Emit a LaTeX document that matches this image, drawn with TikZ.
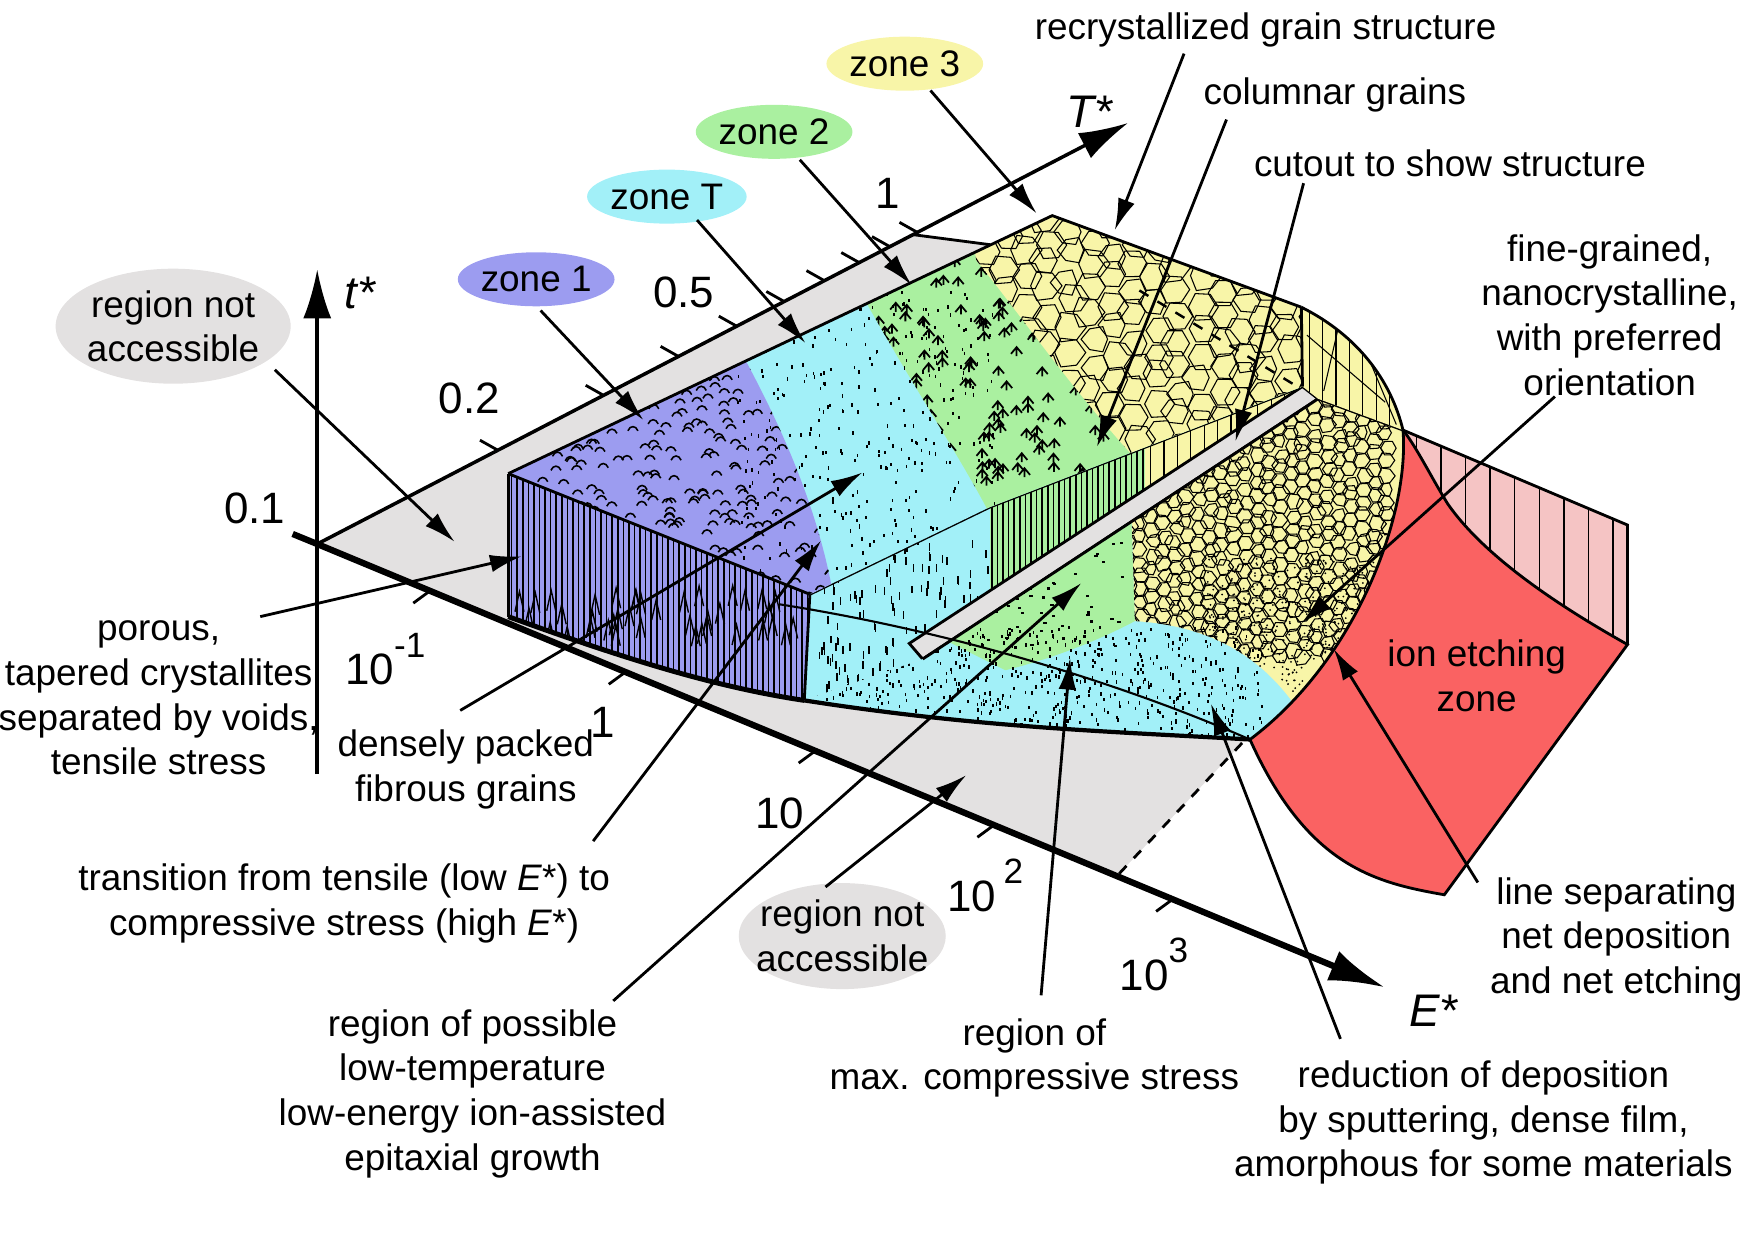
\documentclass[tikz,border=0pt]{standalone}
\usepackage{fontspec}
\setmainfont{Liberation Sans}
\usetikzlibrary{arrows.meta,shapes.geometric,calc}
\definecolor{zpurple}{HTML}{9C9CF0}
\definecolor{zcyan}{HTML}{A2F0F8}
\definecolor{zgreen}{HTML}{AAF0A0}
\definecolor{zyellow}{HTML}{F8F5A8}
\definecolor{zred}{HTML}{FA6262}
\definecolor{zpink}{HTML}{F5C4C4}
\definecolor{zgray}{HTML}{E3E1E1}
\tikzset{
 lbl/.style={align=center,font=\fontsize{10.5}{12.7}\selectfont,inner sep=0pt},
 arr/.style={-{Latex[length=9pt,width=5pt]},line width=0.8pt},
 zone/.style={ellipse,inner sep=0pt,minimum width=1.5cm,minimum height=0.54cm,font=\fontsize{10.5}{12.7}\selectfont},
 edge/.style={line width=0.8pt},
 tick/.style={line width=0.8pt},
 grain/.style={line width=0.3pt}
}
\newcommand{\hexnet}[6]{% x0 y0 cols rows r
 \foreach \i in {0,...,#3}{\foreach \j in {0,...,#4}{%
  \pgfmathsetmacro\cx{#1+1.5*#5*\i+(rnd-0.5)*#5*0.7}%
  \pgfmathsetmacro\cy{#2+1.732*#5*(\j+0.5*mod(\i,2))+(rnd-0.5)*#5*0.7}%
  \pgfmathsetmacro\rr{#5*(0.8+0.4*rnd)}%
  \draw[grain,#6] (\cx,\cy) +(0:\rr) -- +(60:#5) -- +(120:\rr) -- +(180:#5) -- +(240:\rr) -- +(300:#5) -- cycle;}}}
\begin{document}
\begin{tikzpicture}[x=0.01117cm,y=-0.01117cm]
\pgfmathsetseed{7}
\useasboundingbox (0,0) rectangle (1560.4,1120.9);
% key coordinates
\coordinate (O) at (284,487);
\coordinate (F1) at (455,424);
\coordinate (F2) at (455,552);
\coordinate (F3) at (720,627);
\coordinate (F4) at (725,532);
\coordinate (TC) at (942,193);
\coordinate (TR) at (1165,275);
\coordinate (W1) at (886,454);
\coordinate (S1) at (1166,346);
\coordinate (S2) at (1180,357);
\coordinate (S3) at (826,590);
\coordinate (S4) at (814,576);
\coordinate (D1) at (1256,385);
\coordinate (D2) at (1119,662);
% gray base plane
\fill[zgray] (O) -- (817,210) -- (886,219) -- (1000,290) -- (1114,663) -- (1002,782) -- cycle;
\draw[edge] (817,210) -- (886,219);
\draw[edge,dashed] (1002,782) -- (1114,663);
% red and pink
\fill[zpink] (D1) -- (1457,470) -- (1457,577) .. controls (1400,545) and (1330,500) .. (1296,451) .. controls (1280,425) and (1268,400) .. (D1);
\begin{scope}
\clip (D1) -- (1457,470) -- (1457,577) .. controls (1400,545) and (1330,500) .. (1296,451) .. controls (1280,425) and (1268,400) .. (D1);
\foreach \x in {1268,1290,...,1456} \draw[line width=0.4pt] (\x,380) -- (\x,600);
\end{scope}
\draw[edge] (D1) -- (1457,470) -- (1457,577);
\fill[zred] (D2) .. controls (1215,590) and (1262,460) .. (D1) .. controls (1268,400) and (1280,425) .. (1296,451) .. controls (1330,500) and (1400,545) .. (1457,577) -- (1293,801) .. controls (1230,790) and (1170,775) .. (D2);
\draw[edge] (D1) .. controls (1268,400) and (1280,425) .. (1296,451) .. controls (1330,500) and (1400,545) .. (1457,577) -- (1293,801) .. controls (1230,790) and (1170,775) .. (D2);
% front face (zone 1)
\fill[zpurple] (F1) -- (F2) .. controls (560,590) and (640,615) .. (F3) -- (F4) -- cycle;
\begin{scope}
\clip (F1) -- (F2) .. controls (560,590) and (640,615) .. (F3) -- (F4) -- cycle;
\foreach \x in {458,463,...,725} \draw[line width=0.45pt] (\x,400) -- (\x,650);
\foreach \i in {1,...,40}{\pgfmathsetmacro\px{460+250*rnd}\pgfmathsetmacro\py{540+40*rnd}
 \draw[line width=0.4pt] (\px,\py) -- ++(4,-18) -- ++(4,18);}
\end{scope}
\draw[edge] (F1) -- (F2);
\draw[line width=1.4pt] (F2) .. controls (560,590) and (640,615) .. (F3);
% side wall along T
\begin{scope}
\clip (F4) -- (W1) -- (S1) -- (S4) -- (S3) -- (F3) -- cycle;
\fill[zcyan] (700,300) rectangle (886,650);
\fill[zgreen] (886,300) rectangle (1025,650);
\fill[zyellow] (1025,300) rectangle (1200,650);
\foreach \x in {888,893,...,1025} \draw[line width=0.45pt] (\x,330) -- (\x,650);
\foreach \x in {1030,1042,...,1160} \draw[line width=0.35pt] (\x,330) -- (\x,650);
\foreach \i in {1,...,170}{\pgfmathsetmacro\px{728+158*rnd}\pgfmathsetmacro\py{470+160*rnd}
 \fill (\px,\py) rectangle ++(1.3,7);}
\end{scope}
\draw[edge] (F4) -- (W1) -- (S1);
\draw[edge] (F4) -- (F3);
% cutout strip
\fill[zgray] (S4) -- (S1) -- (S2) -- (S3) -- cycle;
\draw[edge] (S4) -- (S1) -- (S2) -- (S3) -- cycle;
% lower platform
\begin{scope}
\clip (F3) -- (S3) -- (S2) -- (D1) .. controls (1262,460) and (1215,590) .. (D2) .. controls (1000,655) and (880,652) .. (F3);
\fill[zcyan] (700,300) rectangle (1300,700);
\fill[zgreen] (850,575) -- (1012,440) -- (1016,556) .. controls (980,575) and (940,590) .. (900,600) -- cycle;
\fill[zyellow] (1012,430) -- (1300,300) -- (1300,700) -- (1165,640) .. controls (1130,585) and (1080,560) .. (1016,556) -- cycle;
\foreach \i in {1,...,650}{\pgfmathsetmacro\px{730+400*rnd}\pgfmathsetmacro\py{560+100*rnd}
 \fill (\px,\py) rectangle ++(1.5,3);}
\foreach \i in {1,...,60}{\pgfmathsetmacro\px{880+130*rnd}\pgfmathsetmacro\py{480+100*rnd}
 \fill (\px,\py) rectangle ++(3,2);}
\begin{scope}
\clip (1012,430) -- (1300,300) -- (1300,700) -- (1165,640) .. controls (1130,585) and (1080,560) .. (1016,556) -- cycle;
\hexnet{1010}{340}{22}{20}{7}{}
\foreach \i in {1,...,500}{\pgfmathsetmacro\px{1080+170*rnd}\pgfmathsetmacro\py{500+130*rnd}
 \fill (\px,\py) circle (0.9);}
\end{scope}
\end{scope}
\draw[edge] (S3) -- (S2) -- (D1);
\draw[edge] (D1) .. controls (1262,460) and (1215,590) .. (D2);
\draw[line width=1.2pt] (F3) .. controls (880,652) and (1000,655) .. (D2);
\draw[line width=0.6pt] (698,541) .. controls (850,565) and (1000,610) .. (D2);
% upper top surface
\begin{scope}
\clip (F1) -- (TC) -- (TR) -- (S1) -- (W1) -- (F4) -- cycle;
\fill[zcyan] (400,150) rectangle (1300,600);
\fill[zpurple] (400,460) -- (400,200) -- (655,300) .. controls (700,380) and (735,460) .. (748,545) -- cycle;
\fill[zgreen] (760,150) -- (775,270) .. controls (820,350) and (860,410) .. (886,460) -- (1200,460) -- (1200,150) -- cycle;
\fill[zyellow] (860,150) -- (874,233) .. controls (920,290) and (960,350) .. (1025,420) -- (1300,420) -- (1300,150) -- cycle;
\begin{scope}
\clip (400,460) -- (400,200) -- (655,300) .. controls (700,380) and (735,460) .. (748,545) -- cycle;
\foreach \i in {1,...,330}{\pgfmathsetmacro\px{455+290*rnd}\pgfmathsetmacro\py{300+240*rnd}
 \draw[line width=0.45pt] (\px,\py) .. controls +(2,-5) and +(-2,-5) .. ++(9,0);}
\end{scope}
\foreach \i in {1,...,350}{\pgfmathsetmacro\px{660+230*rnd}\pgfmathsetmacro\py{260+250*rnd}
 \fill (\px,\py) rectangle ++(1.5,3);}
\begin{scope}
\clip (760,150) -- (775,270) .. controls (820,350) and (860,410) .. (886,460) -- (1025,420) .. controls (960,350) and (920,290) .. (874,233) -- (860,150) -- cycle;
\foreach \i in {1,...,160}{\pgfmathsetmacro\px{775+220*rnd}\pgfmathsetmacro\py{215+220*rnd}
 \draw[line width=0.5pt] (\px,\py) ++(-5,4) -- ++(5,-6) -- ++(5,6) ++(-5,-6) -- ++(0,8);}
\end{scope}
\begin{scope}
\clip (860,150) -- (874,233) .. controls (920,290) and (960,350) .. (1025,420) -- (1300,420) -- (1300,150) -- cycle;
\hexnet{860}{170}{20}{10}{13}{}
\draw[line width=0.7pt,dashed] (1020,260) -- (1250,400);
\end{scope}
\end{scope}
\draw[edge] (F1) -- (TC) -- (TR);
\draw[edge] (F1) -- (F4);
% side face at dome
\fill[zyellow] (TR) .. controls (1215,300) and (1245,340) .. (D1) -- (S2) -- (S1) -- cycle;
\begin{scope}
\clip (TR) .. controls (1215,300) and (1245,340) .. (D1) -- (S2) -- (S1) -- cycle;
\foreach \x in {1172,1184,...,1256} \draw[line width=0.35pt] (\x,260) -- (\x,400);
\draw[grain] (1170,300) -- (1240,360) (1200,285) -- (1185,350) (1225,320) -- (1250,380);
\end{scope}
\draw[edge] (TR) .. controls (1215,300) and (1245,340) .. (D1);
\draw[edge] (TR) -- (S1);
% axes
\draw[line width=1pt,-{Latex[length=14pt,width=8pt]}] (O) -- (1010,110);
\draw[line width=1pt,-{Latex[length=14pt,width=8pt]}] (284,693) -- (284,241);
\draw[line width=1.8pt,-{Latex[length=16pt,width=9pt]}] (262,478) -- (O) -- (1240,884);
\foreach \t in {0.2,0.3,0.4,0.5,0.6,0.7,0.8,0.9,1.0}{
 \pgfmathsetmacro\s{0.74*log10(\t/0.1)}
 \draw[tick] ($(284,487)+\s*(726,-377)$) -- ++(-16,-9);}
\foreach \x in {385,560,730,890,1050}{
 \pgfmathsetmacro\yy{487+0.415*(\x-284)}
 \draw[tick] (\x,\yy) -- ++(-15,11);}
% axis labels
\node[lbl,font=\fontsize{13}{15}\selectfont\itshape] (Tl) at (975,100) {T*};
\node[lbl,font=\fontsize{13}{15}\selectfont\itshape] (tl) at (322,262) {t*};
\node[lbl,font=\fontsize{13}{15}\selectfont\itshape] (El) at (1283,905) {E*};
\node[lbl,font=\fontsize{12.5}{15}\selectfont] (t1) at (228,455) {0.1};
\node[lbl,font=\fontsize{12.5}{15}\selectfont] (t2) at (420,357) {0.2};
\node[lbl,font=\fontsize{12.5}{15}\selectfont] (t5) at (612,262) {0.5};
\node[lbl,font=\fontsize{12.5}{15}\selectfont] (t10) at (795,173) {1};
\node[lbl,font=\fontsize{12.5}{15}\selectfont] (e1) at (345,590) {10\raisebox{1.2ex}{\fontsize{10}{12}\selectfont -1}};
\node[lbl,font=\fontsize{12.5}{15}\selectfont] (e2) at (540,647) {1};
\node[lbl,font=\fontsize{12.5}{15}\selectfont] (e3) at (698,728) {10};
\node[lbl,font=\fontsize{12.5}{15}\selectfont] (e4) at (882,793) {10\,\raisebox{1.2ex}{\fontsize{10}{12}\selectfont 2}};
\node[lbl,font=\fontsize{12.5}{15}\selectfont] (e5) at (1033,863) {10\raisebox{1.2ex}{\fontsize{10}{12}\selectfont 3}};
% zone labels
\node[zone,fill=zpurple] (z1) at (480,250) {zone 1};
\node[zone,fill=zcyan] (zT) at (597,176) {zone T};
\node[zone,fill=zgreen] (z2) at (693,118) {zone 2};
\node[zone,fill=zyellow] (z3) at (810,57) {zone 3};
\node[ellipse,fill=zgray,minimum width=2.35cm,minimum height=1.15cm,inner sep=0pt] (rna1) at (155,292) {};
\node[lbl] (rna1t) at (155,292) {region not\\accessible};
\node[ellipse,fill=zgray,minimum width=2.07cm,minimum height=1.06cm,inner sep=0pt] (rna2) at (754,838) {};
\node[lbl] (rna2t) at (754,838) {region not\\accessible};
% text labels
\node[lbl] (rec) at (1133,27) {recrystallized grain structure};
\node[lbl] (col) at (1195,85) {columnar grains};
\node[lbl] (cut) at (1298,146) {cutout to show structure};
\node[lbl] (fine) at (1441,282) {fine-grained,\\nanocrystalline,\\with preferred\\orientation};
\node[lbl] (por) at (142,625) {porous,\\tapered crystallites\\separated by voids,\\tensile stress};
\node[lbl] (den) at (417,689) {densely packed\\fibrous grains};
\node[lbl] (tra) at (308,809) {transition from tensile (low \textit{E}*) to\\compressive stress (high \textit{E}*)};
\node[lbl] (pos) at (423,979) {region of possible\\low-temperature\\low-energy ion-assisted\\epitaxial growth};
\node[lbl] (max) at (926,947) {region of\\max. compressive stress};
\node[lbl] (red) at (1328,1005) {reduction of deposition\\by sputtering, dense film,\\amorphous for some materials};
\node[lbl] (sep) at (1447,841) {line separating\\net deposition\\and net etching};
\node[lbl] (ion) at (1322,605) {ion etching\\zone};
% arrow coordinates
\coordinate (a1s) at (833,81);  \coordinate (a1e) at (928,191);
\coordinate (a2s) at (716,143); \coordinate (a2e) at (816,255);
\coordinate (a3s) at (624,197); \coordinate (a3e) at (721,307);
\coordinate (a4s) at (484,278); \coordinate (a4e) at (576,376);
\coordinate (a5s) at (1060,48); \coordinate (a5e) at (998,206);
\coordinate (a6s) at (1098,107); \coordinate (a6e) at (982,400);
\coordinate (a7s) at (1167,164); \coordinate (a7e) at (1106,395);
\coordinate (a8s) at (1392,355); \coordinate (a8e) at (1165,558);
\coordinate (a9s) at (246,331); \coordinate (a9e) at (407,485);
\coordinate (b1s) at (233,552); \coordinate (b1e) at (467,498);
\coordinate (b2s) at (412,636); \coordinate (b2e) at (772,423);
\coordinate (b3s) at (531,753); \coordinate (b3e) at (735,484);
\coordinate (b4s) at (549,896); \coordinate (b4e) at (968,522);
\coordinate (b5s) at (739,794); \coordinate (b5e) at (865,694);
\coordinate (b6s) at (932,891); \coordinate (b6e) at (958,589);
\coordinate (b7s) at (1200,930); \coordinate (b7e) at (1084,630);
\coordinate (b8s) at (1323,790); \coordinate (b8e) at (1194,581);
\foreach \a in {a1,a2,a3,a4,a5,a6,a7,a8,a9,b1,b2,b3,b4,b5,b6,b7,b8}
 \draw[arr] (\a s) -- (\a e);
\end{tikzpicture}
\end{document}
